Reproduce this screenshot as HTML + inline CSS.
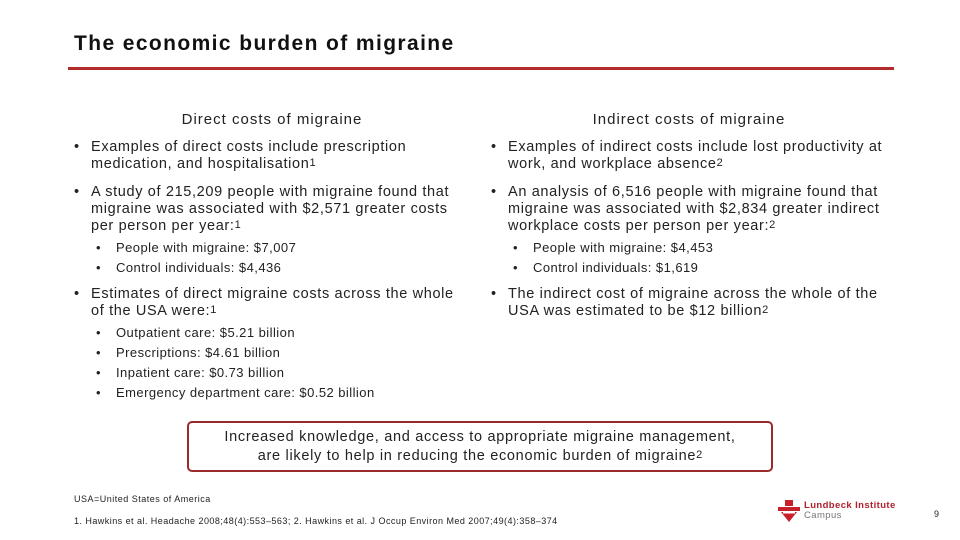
<!DOCTYPE html>
<html><head><meta charset="utf-8"><style>
body{margin:0;width:960px;height:540px;background:#fff;position:relative;overflow:hidden;font-family:"Liberation Sans",Arial,sans-serif;color:#222}
.a{position:absolute;white-space:nowrap}
.t{font-size:14.5px;line-height:17px;letter-spacing:0.65px}
.s{font-size:13px;line-height:20px;letter-spacing:0.45px}
sup{font-size:11px;vertical-align:top;position:relative;top:-1px;letter-spacing:0}
.h{font-size:15px;color:#222;text-align:center;letter-spacing:1px}
</style></head><body>
<div class="a" style="left:74px;top:32px;font-size:21px;font-weight:bold;color:#111;letter-spacing:1.4px">The economic burden of migraine</div>
<div class="a" style="left:68px;top:67px;width:826px;height:3px;background:#b22a2a"></div>

<div class="a h" style="left:132px;top:111px;width:280px">Direct costs of migraine</div>
<div class="a h" style="left:549px;top:111px;width:280px">Indirect costs of migraine</div>

<div>
<div class="a t" style="left:74px;top:139px">•</div>
<div class="a t" style="left:91px;top:139px">Examples of direct costs include prescription<br>medication, and hospitalisation<sup>1</sup></div>
<div class="a t" style="left:74px;top:184px">•</div>
<div class="a t" style="left:91px;top:184px">A study of 215,209 people with migraine found that<br>migraine was associated with $2,571 greater costs<br>per person per year:<sup>1</sup></div>
<div class="a s" style="left:96px;top:238px">•<br>•</div>
<div class="a s" style="left:116px;top:238px">People with migraine: $7,007<br>Control individuals: $4,436</div>
<div class="a t" style="left:74px;top:286px">•</div>
<div class="a t" style="left:91px;top:286px">Estimates of direct migraine costs across the whole<br>of the USA were:<sup>1</sup></div>
<div class="a s" style="left:96px;top:323px">•<br>•<br>•<br>•</div>
<div class="a s" style="left:116px;top:323px">Outpatient care: $5.21 billion<br>Prescriptions: $4.61 billion<br>Inpatient care: $0.73 billion<br>Emergency department care: $0.52 billion</div>
</div>

<div>
<div class="a t" style="left:491px;top:139px">•</div>
<div class="a t" style="left:508px;top:139px">Examples of indirect costs include lost productivity at<br>work, and workplace absence<sup>2</sup></div>
<div class="a t" style="left:491px;top:184px">•</div>
<div class="a t" style="left:508px;top:184px">An analysis of 6,516 people with migraine found that<br>migraine was associated with $2,834 greater indirect<br>workplace costs per person per year:<sup>2</sup></div>
<div class="a s" style="left:513px;top:238px">•<br>•</div>
<div class="a s" style="left:533px;top:238px">People with migraine: $4,453<br>Control individuals: $1,619</div>
<div class="a t" style="left:491px;top:286px">•</div>
<div class="a t" style="left:508px;top:286px">The indirect cost of migraine across the whole of the<br>USA was estimated to be $12 billion<sup>2</sup></div>
</div>

<div class="a" style="left:187px;top:421px;width:582px;height:42px;border:2px solid #9b2b2b;border-radius:5px;text-align:center;font-size:14.5px;line-height:19px;padding-top:5px;letter-spacing:0.7px">Increased knowledge, and access to appropriate migraine management,<br>are likely to help in reducing the economic burden of migraine<sup>2</sup></div>

<div class="a" style="left:74px;top:494px;font-size:9px;letter-spacing:0.5px">USA=United States of America</div>
<div class="a" style="left:74px;top:516px;font-size:9px;letter-spacing:0.46px">1. Hawkins et al. Headache 2008;48(4):553–563; 2. Hawkins et al. J Occup Environ Med 2007;49(4):358–374</div>

<div>
<svg class="a" style="left:778px;top:500px" width="22" height="22" viewBox="0 0 22 22"><rect x="7" y="0" width="8" height="6" fill="#c8202a"/><rect x="0" y="7" width="22" height="4" fill="#c8202a"/><polygon points="3,12 19,12 11,22" fill="#c8202a"/><rect x="5" y="12" width="12" height="1.5" fill="#fff"/></svg>
<div class="a" style="left:804px;top:500px;font-size:9.5px;font-weight:bold;color:#b01f2a;letter-spacing:0.4px">Lundbeck Institute</div>
<div class="a" style="left:804px;top:510px;font-size:9.5px;color:#777;letter-spacing:0.4px">Campus</div>
</div>
<div class="a" style="left:934px;top:509px;font-size:9px">9</div>
</body></html>
